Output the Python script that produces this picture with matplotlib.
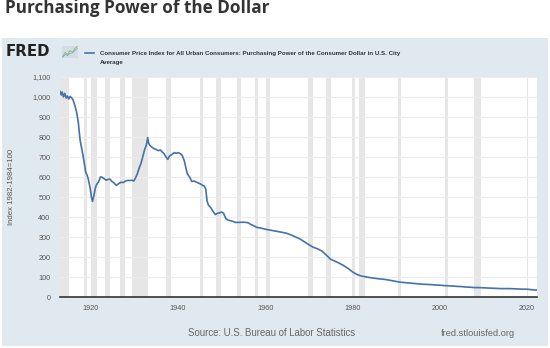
import matplotlib
matplotlib.use("Agg")
import matplotlib.pyplot as plt
from matplotlib.lines import Line2D

W, H = 550, 348

# ---- data ----
years = [1913.0, 1913.3, 1913.5, 1913.8, 1914.1, 1914.4, 1914.7, 1915.0, 1915.3, 1915.7,
         1916.0, 1916.4, 1916.8, 1917.2, 1917.6, 1918.0, 1918.3, 1918.7, 1918.9, 1919.2,
         1919.5, 1919.9, 1920.2, 1920.45, 1920.8, 1921.1, 1921.4, 1921.8, 1922.3, 1922.7,
         1923.1, 1923.6, 1924.0, 1924.4, 1924.9, 1925.4, 1925.9, 1926.3, 1926.7, 1927.0,
         1927.5, 1928.0, 1928.5, 1929.0, 1929.4, 1929.9, 1930.3, 1930.7, 1931.2, 1931.6,
         1932.0, 1932.4, 1932.8, 1933.1, 1933.3, 1933.6, 1934.0, 1934.5, 1935.0, 1935.5,
         1936.0, 1936.3, 1936.8, 1937.3, 1937.7, 1938.1, 1938.6, 1939.2, 1939.6, 1940.1,
         1940.6, 1941.0, 1941.5, 1941.9, 1942.2, 1942.7, 1943.2, 1943.7, 1944.2, 1944.7,
         1945.2, 1945.7, 1946.0, 1946.4, 1946.7, 1947.0, 1947.5, 1948.0, 1948.6, 1949.0,
         1949.5, 1950.0, 1950.5, 1951.0, 1951.5, 1952.0, 1952.6, 1953.2, 1954.0, 1955.0,
         1956.0, 1956.8, 1957.5, 1958.1, 1959.0, 1960.0, 1961.0, 1962.0, 1963.0, 1964.0,
         1965.0, 1966.0, 1967.0, 1968.0, 1969.0, 1970.0, 1971.0, 1972.0, 1973.0, 1974.0,
         1975.0, 1976.0, 1977.0, 1978.0, 1979.0, 1980.0, 1981.0, 1982.0, 1983.0, 1984.0,
         1985.0, 1986.0, 1987.0, 1988.0, 1989.0, 1990.0, 1991.0, 1992.0, 1993.0, 1994.0,
         1995.0, 1996.0, 1997.0, 1998.0, 1999.0, 2000.0, 2001.0, 2002.0, 2003.0, 2004.0,
         2005.0, 2006.0, 2007.0, 2008.0, 2009.0, 2010.0, 2011.0, 2012.0, 2013.0, 2014.0,
         2015.0, 2016.0, 2017.0, 2018.0, 2019.0, 2020.0, 2021.0, 2022.0, 2022.3]
values = [1028, 1010, 1025, 1000, 1018, 995, 1005, 990, 1003, 995,
          985, 958, 925, 872, 785, 740, 705, 650, 623, 610,
          588, 545, 500, 478, 510, 545, 563, 575, 601, 598,
          592, 584, 588, 590, 578, 570, 558, 565, 570, 574,
          572, 580, 583, 582, 584, 580, 595, 615, 648, 671,
          705, 738, 760, 797, 770, 758, 750, 742, 738, 732,
          735, 728, 718, 700, 688, 705, 712, 722, 718, 722,
          716, 708, 680, 640, 615, 600, 578, 580, 575, 570,
          565, 558, 556, 540, 480, 460, 448, 430, 412, 418,
          420, 425, 418, 392, 384, 382, 378, 373, 373, 374,
          372, 362, 355, 348, 345, 339, 335, 331, 327, 323,
          318, 310, 300, 290, 276, 262, 249, 241, 230, 210,
          189, 179, 169, 157, 143, 126, 113, 105, 101, 97,
          94, 91, 89, 86, 82, 78, 74, 72, 70, 68,
          66, 64, 63, 62, 60, 59, 57, 56, 55, 53,
          52, 50, 49, 47, 47, 46, 45, 44, 43, 42,
          42, 42, 41, 40, 39, 39, 37, 35, 34]

recession_start = [1913.0, 1918.6, 1920.0, 1923.35, 1926.75, 1929.6, 1937.35, 1945.1, 1948.85,
                   1953.5, 1957.6, 1960.3, 1969.9, 1973.85, 1980.0, 1981.5, 1990.5, 2001.15,
                   2007.9, 2020.1]
recession_end = [1914.95, 1919.2, 1921.55, 1924.55, 1927.9, 1933.2, 1938.45, 1945.8, 1949.8,
                 1954.4, 1958.3, 1961.15, 1970.9, 1975.2, 1980.55, 1982.9, 1991.2, 2001.9,
                 2009.5, 2020.3]

y_ticks = [0, 100, 200, 300, 400, 500, 600, 700, 800, 900, 1000, 1100]
y_tick_labels = ["0", "100", "200", "300", "400", "500", "600", "700", "800", "900",
                 "1,000", "1,100"]
x_ticks = [1920, 1940, 1960, 1980, 2000, 2020]
x_tick_labels = ["1920", "1940", "1960", "1980", "2000", "2020"]

title = "Purchasing Power of the Dollar"
legend_line1 = "Consumer Price Index for All Urban Consumers: Purchasing Power of the Consumer Dollar in U.S. City"
legend_line2 = "Average"
y_label = "Index 1982-1984=100"
source = "Source: U.S. Bureau of Labor Statistics"
site = "fred.stlouisfed.org"

# ---- figure ----
fig = plt.figure(figsize=(W / 100, H / 100), dpi=100)
fig.patch.set_facecolor("white")

def fx(x):
    return x / W

def fy(y):
    return 1 - y / H

# panel background
bg = fig.add_axes([fx(2), fy(346), 546 / W, 308 / H], zorder=-10)
bg.set_facecolor("#e1e9f0")
bg.set_xticks([])
bg.set_yticks([])
for s in bg.spines.values():
    s.set_visible(False)

# title
fig.text(fx(5), fy(13), title, fontsize=12.3, fontweight="bold", color="#333333",
         family="Open Sans", ha="left", va="baseline")

# FRED logo text + icon
fig.text(fx(6), fy(51.5), "FRED", fontsize=10.8, fontweight="bold", color="#222222",
         family="DejaVu Sans", ha="left", va="center")
icon = fig.add_axes([fx(62), fy(58), 16 / W, 12 / H])
icon.set_facecolor("#d3dde6")
icon.plot([0, 1, 2, 3, 4, 5, 6], [1, 3, 2, 4, 3, 5, 6], color="#8dbb6a", lw=0.7)
icon.plot([0, 1, 2, 3, 4, 5, 6], [0.5, 2, 1.5, 2.5, 2.8, 4, 5], color="#7a9cc6", lw=0.5)
for s in icon.spines.values():
    s.set_visible(False)
icon.set_xticks([])
icon.set_yticks([])

# legend
fig.lines.append(Line2D([fx(85), fx(94)], [fy(53), fy(53)], transform=fig.transFigure,
                        color="#4572a7", lw=1.2))
fig.text(fx(99.5), fy(53), legend_line1, fontsize=4.4, fontweight="bold", color="#333333",
         family="Liberation Sans", ha="left", va="center")
fig.text(fx(99.5), fy(62.5), legend_line2, fontsize=4.4, fontweight="bold", color="#333333",
         family="Liberation Sans", ha="left", va="center")

# main axes
ax = fig.add_axes([fx(60), fy(297), (537 - 60) / W, (297 - 77) / H])
ax.set_facecolor("white")
for a, b in zip(recession_start, recession_end):
    ax.axvspan(a, b, color="#e6e6e6", lw=0, zorder=0)
ax.plot(years, values, color="#4572a7", lw=1.2, zorder=3)
ax.set_xlim(1913.0, 2022.3)
ax.set_ylim(0, 1100)
ax.set_yticks(y_ticks)
ax.set_yticklabels(y_tick_labels)
ax.set_xticks(x_ticks)
ax.set_xticklabels(x_tick_labels)
ax.yaxis.grid(True, color="#ececec", lw=0.8, zorder=1)
ax.set_axisbelow(True)
for side in ["top", "right", "left"]:
    ax.spines[side].set_visible(False)
ax.spines["bottom"].set_color("#333333")
ax.spines["bottom"].set_linewidth(1.2)
ax.tick_params(axis="both", length=0, labelsize=5.2, labelcolor="#555555",
               labelfontfamily="Liberation Sans")
ax.tick_params(axis="x", pad=6)
ax.tick_params(axis="y", pad=7)
ax.set_ylabel(y_label, fontsize=5.6, color="#555555", family="Liberation Sans", labelpad=12)

# footer
fig.text(fx(272), fy(333), source, fontsize=6.9, color="#666666", family="Liberation Sans",
         ha="center", va="center")
fig.text(fx(478), fy(333), site, fontsize=6.7, color="#666666", family="Liberation Sans",
         ha="center", va="center")

fig.savefig("out.png", dpi=100, facecolor=fig.get_facecolor())
